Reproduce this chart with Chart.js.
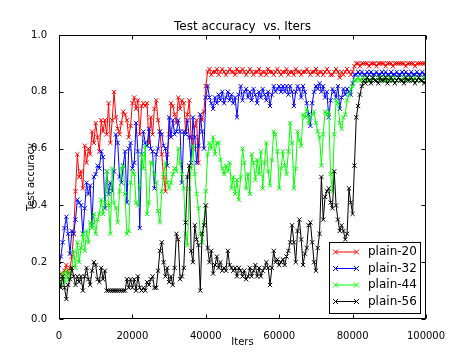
<!DOCTYPE html>
<html><head><meta charset="utf-8">
<script src="https://cdn.jsdelivr.net/npm/chart.js@4/dist/chart.umd.min.js"></script>
<style>html,body{margin:0;padding:0;background:#fff;overflow:hidden}canvas{display:block}</style>
</head><body>
<canvas id="c" width="474" height="355"></canvas>
<script>
const iters = [
0,500,1000,1500,2000,2500,3000,3500,4000,4500,
5000,5500,6000,6500,7000,7500,8000,8500,9000,9500,
10000,10500,11000,11500,12000,12500,13000,13500,14000,14500,
15000,15500,16000,16500,17000,17500,18000,18500,19000,19500,
20000,20500,21000,21500,22000,22500,23000,23500,24000,24500,
25000,25500,26000,26500,27000,27500,28000,28500,29000,29500,
30000,30500,31000,31500,32000,32500,33000,33500,34000,34500,
35000,35500,36000,36500,37000,37500,38000,38500,39000,39500,
40000,40500,41000,41500,42000,42500,43000,43500,44000,44500,
45000,45500,46000,46500,47000,47500,48000,48500,49000,49500,
50000,50500,51000,51500,52000,52500,53000,53500,54000,54500,
55000,55500,56000,56500,57000,57500,58000,58500,59000,59500,
60000,60500,61000,61500,62000,62500,63000,63500,64000,64500,
65000,65500,66000,66500,67000,67500,68000,68500,69000,69500,
70000,70500,71000,71500,72000,72500,73000,73500,74000,74500,
75000,75500,76000,76500,77000,77500,78000,78500,79000,79500,
80000,80500,81000,81500,82000,82500,83000,83500,84000,84500,
85000,85500,86000,86500,87000,87500,88000,88500,89000,89500,
90000,90500,91000,91500,92000,92500,93000,93500,94000,94500,
95000,95500,96000,96500,97000,97500,98000,98500,99000,99500,
100000];

const plain20 = [
0.15,0.16,0.14,0.17,0.19,0.16,0.18,0.22,0.30,0.45,
0.58,0.50,0.52,0.46,0.61,0.55,0.60,0.58,0.66,0.62,
0.69,0.64,0.59,0.70,0.66,0.70,0.65,0.76,0.62,0.70,
0.80,0.71,0.67,0.65,0.69,0.73,0.72,0.70,0.64,0.68,
0.76,0.78,0.74,0.77,0.65,0.75,0.76,0.75,0.76,0.62,
0.71,0.65,0.74,0.77,0.70,0.66,0.58,0.50,0.45,0.58,
0.65,0.76,0.75,0.72,0.69,0.78,0.74,0.77,0.76,0.66,
0.72,0.77,0.64,0.60,0.68,0.70,0.55,0.72,0.70,0.73,
0.82,0.87,0.88,0.86,0.87,0.87,0.88,0.86,0.87,0.88,
0.87,0.86,0.87,0.88,0.87,0.87,0.86,0.88,0.87,0.87,
0.88,0.87,0.86,0.87,0.88,0.87,0.86,0.87,0.87,0.88,
0.86,0.87,0.87,0.86,0.88,0.87,0.87,0.86,0.87,0.88,
0.87,0.86,0.87,0.87,0.88,0.86,0.87,0.87,0.86,0.88,
0.87,0.87,0.86,0.87,0.87,0.88,0.87,0.86,0.87,0.87,
0.88,0.86,0.87,0.87,0.86,0.87,0.88,0.87,0.86,0.86,
0.87,0.88,0.87,0.85,0.87,0.86,0.87,0.88,0.87,0.86,
0.87,0.89,0.90,0.90,0.89,0.90,0.90,0.90,0.90,0.89,
0.90,0.90,0.90,0.89,0.90,0.90,0.90,0.90,0.89,0.90,
0.90,0.90,0.89,0.90,0.90,0.90,0.90,0.90,0.90,0.89,
0.90,0.90,0.90,0.90,0.89,0.90,0.90,0.90,0.90,0.90,
0.90];

const plain32 = [
0.19,0.22,0.27,0.32,0.36,0.30,0.23,0.31,0.30,0.35,
0.42,0.41,0.40,0.30,0.39,0.48,0.44,0.47,0.33,0.50,
0.51,0.54,0.53,0.59,0.57,0.39,0.52,0.44,0.48,0.45,
0.52,0.65,0.62,0.50,0.48,0.54,0.59,0.41,0.60,0.62,
0.53,0.55,0.69,0.59,0.32,0.58,0.66,0.62,0.61,0.67,
0.60,0.59,0.46,0.58,0.60,0.66,0.65,0.61,0.60,0.54,
0.71,0.64,0.70,0.65,0.66,0.70,0.66,0.48,0.66,0.65,
0.70,0.64,0.55,0.71,0.64,0.55,0.61,0.72,0.66,0.60,
0.78,0.82,0.78,0.76,0.74,0.78,0.76,0.79,0.77,0.80,
0.76,0.78,0.80,0.77,0.79,0.76,0.78,0.71,0.79,0.82,
0.77,0.80,0.81,0.78,0.80,0.77,0.81,0.79,0.76,0.80,
0.78,0.81,0.79,0.77,0.80,0.75,0.79,0.82,0.80,0.81,
0.82,0.80,0.82,0.80,0.82,0.79,0.82,0.80,0.75,0.80,
0.82,0.81,0.78,0.82,0.80,0.76,0.72,0.68,0.76,0.80,
0.82,0.81,0.83,0.80,0.82,0.78,0.80,0.71,0.77,0.81,
0.80,0.78,0.82,0.74,0.78,0.81,0.79,0.81,0.80,0.79,
0.83,0.86,0.86,0.87,0.86,0.87,0.86,0.86,0.87,0.86,
0.87,0.86,0.86,0.87,0.86,0.86,0.87,0.86,0.87,0.86,
0.86,0.87,0.86,0.86,0.87,0.86,0.86,0.87,0.86,0.87,
0.86,0.86,0.87,0.86,0.86,0.87,0.86,0.86,0.87,0.86,
0.86];

const plain44 = [
0.15,0.12,0.16,0.13,0.17,0.14,0.16,0.18,0.24,0.18,
0.27,0.20,0.25,0.30,0.24,0.31,0.27,0.34,0.32,0.37,
0.30,0.35,0.37,0.42,0.37,0.41,0.52,0.40,0.30,0.53,
0.41,0.39,0.34,0.45,0.53,0.54,0.44,0.30,0.31,0.48,
0.52,0.51,0.41,0.40,0.47,0.58,0.53,0.61,0.37,0.41,
0.55,0.55,0.51,0.48,0.38,0.34,0.45,0.51,0.55,0.48,
0.46,0.48,0.51,0.53,0.52,0.60,0.55,0.51,0.46,0.30,
0.26,0.46,0.53,0.61,0.51,0.44,0.39,0.30,0.27,0.34,
0.45,0.58,0.62,0.60,0.64,0.58,0.62,0.62,0.56,0.53,
0.51,0.54,0.52,0.55,0.46,0.50,0.44,0.49,0.42,0.50,
0.60,0.55,0.46,0.51,0.44,0.58,0.55,0.49,0.56,0.51,
0.59,0.46,0.55,0.62,0.52,0.47,0.56,0.66,0.65,0.59,
0.46,0.53,0.59,0.54,0.51,0.59,0.69,0.62,0.46,0.53,
0.66,0.63,0.61,0.72,0.71,0.74,0.69,0.71,0.72,0.73,
0.69,0.66,0.64,0.54,0.65,0.73,0.72,0.73,0.51,0.45,
0.65,0.77,0.76,0.69,0.67,0.71,0.72,0.77,0.79,0.81,
0.82,0.84,0.84,0.85,0.84,0.84,0.85,0.84,0.85,0.84,
0.84,0.85,0.84,0.84,0.85,0.84,0.84,0.85,0.84,0.84,
0.85,0.84,0.84,0.85,0.84,0.85,0.84,0.84,0.85,0.84,
0.84,0.85,0.84,0.84,0.85,0.84,0.85,0.84,0.84,0.85,
0.84];

const plain56 = [
0.14,0.11,0.15,0.11,0.07,0.12,0.14,0.18,0.15,0.12,
0.15,0.13,0.15,0.10,0.15,0.18,0.14,0.12,0.17,0.20,
0.19,0.14,0.13,0.18,0.14,0.17,0.10,0.10,0.10,0.10,
0.10,0.10,0.10,0.10,0.10,0.10,0.10,0.14,0.11,0.14,
0.11,0.14,0.10,0.15,0.11,0.10,0.11,0.10,0.13,0.12,
0.14,0.15,0.11,0.11,0.17,0.24,0.27,0.20,0.15,0.18,
0.13,0.15,0.12,0.18,0.30,0.28,0.14,0.15,0.18,0.34,
0.50,0.54,0.24,0.20,0.33,0.28,0.26,0.10,0.30,0.33,
0.40,0.25,0.20,0.24,0.16,0.19,0.22,0.18,0.20,0.17,
0.18,0.17,0.24,0.19,0.18,0.17,0.18,0.15,0.18,0.17,
0.15,0.17,0.14,0.15,0.18,0.15,0.17,0.19,0.15,0.18,
0.15,0.17,0.18,0.20,0.18,0.12,0.18,0.24,0.20,0.21,
0.19,0.20,0.21,0.19,0.22,0.24,0.27,0.33,0.27,0.20,
0.31,0.35,0.28,0.19,0.23,0.25,0.33,0.34,0.27,0.20,
0.17,0.25,0.30,0.50,0.35,0.43,0.45,0.46,0.41,0.39,
0.52,0.40,0.35,0.31,0.33,0.31,0.28,0.30,0.46,0.41,
0.37,0.54,0.71,0.75,0.79,0.82,0.84,0.83,0.85,0.84,
0.83,0.85,0.84,0.84,0.83,0.85,0.84,0.84,0.85,0.83,
0.84,0.85,0.84,0.83,0.84,0.85,0.84,0.84,0.83,0.85,
0.84,0.84,0.85,0.84,0.83,0.84,0.85,0.84,0.84,0.83,
0.84];

const seriesNames = ['plain-20', 'plain-32', 'plain-44', 'plain-56'];
const xTicks = [0, 20000, 40000, 60000, 80000, 100000];
const yTicks = [0.0, 0.2, 0.4, 0.6, 0.8, 1.0];

const FONT = "'DejaVu Sans', sans-serif";
Chart.defaults.font.family = FONT;
Chart.defaults.color = '#000';

function ds(label, values, color, order) {
  return {
    label,
    data: iters.map((x, i) => ({x, y: values[i]})),
    borderColor: color, backgroundColor: color,
    pointBorderColor: color, pointBackgroundColor: color,
    borderWidth: 1, pointStyle: 'crossRot', pointRadius: 3,
    pointBorderWidth: 1, pointHoverRadius: 3,
    tension: 0, fill: false, order
  };
}

const colors = ['#ff0000', '#0000ff', '#00ff00', '#000000'];
const seriesValues = [plain20, plain32, plain44, plain56];

const framePlugin = {
  id: 'framePlugin',
  afterDatasetsDraw(chart) {
    const {ctx, chartArea: a, scales: {x, y}} = chart;
    ctx.save();
    ctx.strokeStyle = '#000';
    ctx.lineWidth = 1;
    const L = Math.round(a.left) + 0.5, R = Math.round(a.right) - 0.5;
    const T = Math.round(a.top) + 0.5, B = Math.round(a.bottom) - 0.5;
    ctx.strokeRect(L, T, R - L, B - T);
    ctx.beginPath();
    x.ticks.forEach((t, i) => {
      const px = Math.round(x.getPixelForTick(i)) + 0.5;
      ctx.moveTo(px, B); ctx.lineTo(px, B - 4);
      ctx.moveTo(px, T); ctx.lineTo(px, T + 4);
    });
    y.ticks.forEach((t, i) => {
      const py = Math.round(y.getPixelForTick(i)) + 0.5;
      ctx.moveTo(L, py); ctx.lineTo(L + 4, py);
      ctx.moveTo(R, py); ctx.lineTo(R - 4, py);
    });
    ctx.stroke();

    // legend (lower right, inside axes)
    const bx = 329.5, by = 242.5, bw = 91, bh = 71;
    ctx.fillStyle = '#fff';
    ctx.fillRect(bx, by, bw, bh);
    ctx.strokeStyle = '#000';
    ctx.strokeRect(bx, by, bw, bh);
    ctx.font = '12px ' + FONT;
    ctx.textBaseline = 'middle';
    ctx.textAlign = 'left';
    chart.data.datasets.forEach((d, i) => {
      const ry = by + 9.5 + i * 16.5;
      const x0 = 335.5, x1 = 356.5, r = 2.5;
      ctx.strokeStyle = d.borderColor;
      ctx.beginPath();
      ctx.moveTo(x0, ry); ctx.lineTo(x1, ry);
      [x0, x1].forEach(cx => {
        ctx.moveTo(cx - r, ry - r); ctx.lineTo(cx + r, ry + r);
        ctx.moveTo(cx - r, ry + r); ctx.lineTo(cx + r, ry - r);
      });
      ctx.stroke();
      ctx.fillStyle = '#000';
      ctx.fillText(d.label, 368, ry);
    });
    ctx.restore();
  }
};

new Chart(document.getElementById('c'), {
  type: 'line',
  data: {
    datasets: seriesNames.map((n, i) => ds(n, seriesValues[i], colors[i], 4 - i))
  },
  options: {
    responsive: false,
    animation: false,
    devicePixelRatio: 1,
    layout: {padding: {left: 0, right: 48, top: 0, bottom: 0}},
    plugins: {
      legend: {display: false},
      tooltip: {enabled: false},
      title: {
        display: true, fullSize: false, text: 'Test accuracy  vs. Iters', color: '#000',
        font: {family: FONT, size: 12, weight: 'normal'},
        padding: {top: 20, bottom: 0.6}
      }
    },
    scales: {
      x: {
        type: 'linear', min: 0, max: 100000,
        afterBuildTicks: s => { s.ticks = xTicks.map(v => ({value: v})); },
        afterFit: s => { s.height = 36; },
        grid: {display: false}, border: {display: false},
        ticks: {padding: 3, color: '#000', font: {size: 10}, maxRotation: 0, autoSkip: false,
                callback: v => String(v)},
        title: {display: true, text: 'Iters', color: '#000', font: {size: 10},
                padding: {top: 0, bottom: 7}}
      },
      y: {
        min: 0, max: 1,
        afterBuildTicks: s => { s.ticks = yTicks.map(v => ({value: v})); },
        afterFit: s => { s.width = 59; },
        grid: {display: false}, border: {display: false},
        ticks: {padding: 4, color: '#000', font: {size: 10}, autoSkip: false,
                callback: v => Number(v).toFixed(1)},
        title: {display: true, text: 'Test accuracy', color: '#000', font: {size: 10},
                padding: {top: 25, bottom: 0}}
      }
    }
  },
  plugins: [framePlugin]
});
</script>
</body></html>
